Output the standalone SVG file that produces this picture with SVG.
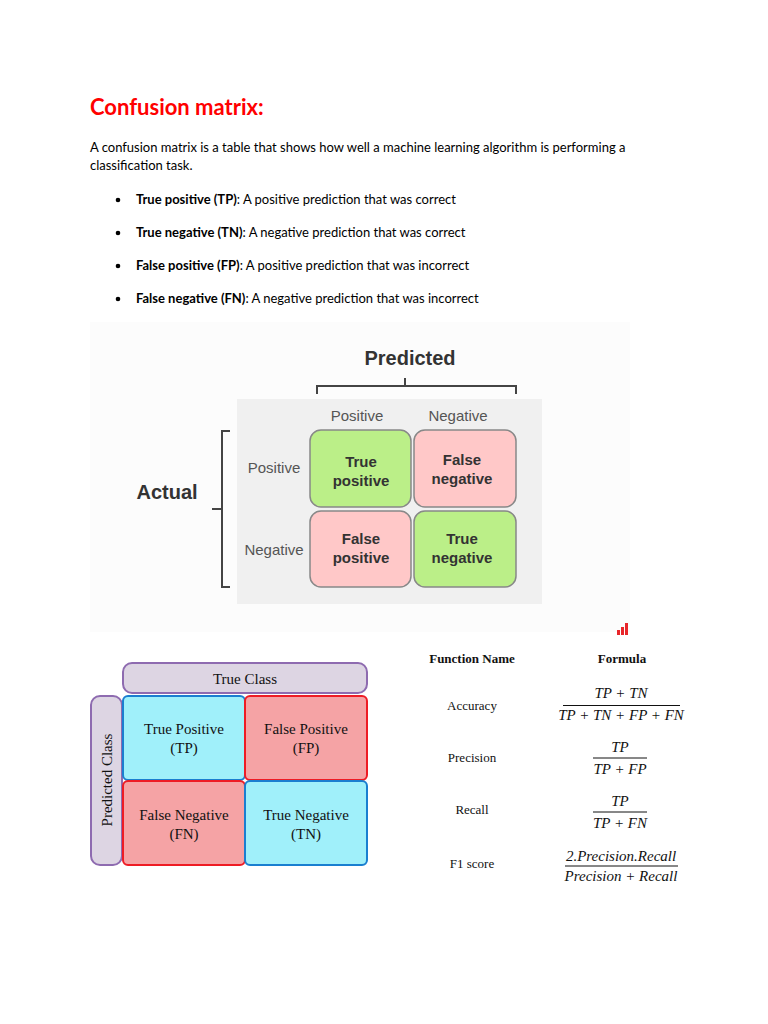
<svg xmlns="http://www.w3.org/2000/svg" width="768" height="1024" viewBox="0 0 768 1024">
<style>
.b{font-family:Lato,"Open Sans",sans-serif;font-size:13px;fill:#000}
.bb{font-weight:bold}
.h{font-family:"Liberation Sans",Arial,sans-serif;fill:#333}
.lab{font-size:15px;fill:#555}
.cell{font-size:15px;font-weight:bold;fill:#333}
.s{font-family:"Liberation Serif","Times New Roman",serif;fill:#111}
.f{font-family:"Liberation Serif",serif;font-style:italic;font-size:15px;fill:#111}
.br{fill:none;stroke:#444;stroke-width:2}
</style>
<rect width="768" height="1024" fill="#fff"/>
<text x="90" y="115" font-family="Lato,'Open Sans',sans-serif" font-size="22" font-weight="bold" fill="#ff0000">Confusion matrix:</text>
<text class="b" x="90" y="152">A confusion matrix is a table that shows how well a machine learning algorithm is performing a</text>
<text class="b" x="90" y="170">classification task.</text>
<g class="b">
<circle cx="118" cy="200" r="2.3"/><text x="136" y="204"><tspan class="bb">True positive (TP)</tspan>: A positive prediction that was correct</text>
<circle cx="118" cy="233" r="2.3"/><text x="136" y="237"><tspan class="bb">True negative (TN)</tspan>: A negative prediction that was correct</text>
<circle cx="118" cy="266" r="2.3"/><text x="136" y="270"><tspan class="bb">False positive (FP)</tspan>: A positive prediction that was incorrect</text>
<circle cx="118" cy="299" r="2.3"/><text x="136" y="303"><tspan class="bb">False negative (FN)</tspan>: A negative prediction that was incorrect</text>
</g>

<g id="matrix1">
<rect x="90" y="322" width="540" height="310" fill="#fcfcfc"/>
<rect x="237" y="399" width="305" height="205" fill="#f0f0f0"/>
<text class="h" x="410" y="365" text-anchor="middle" font-size="20" font-weight="bold">Predicted</text>
<path class="br" d="M317,394 V386 H405 V378 M405,386 H516 V394"/>
<text class="h" x="167" y="499" text-anchor="middle" font-size="20" font-weight="bold">Actual</text>
<path class="br" d="M230,431 H222 V509 H212 M222,509 V587 H230"/>
<g class="h lab">
<text x="357" y="421" text-anchor="middle">Positive</text>
<text x="458" y="421" text-anchor="middle">Negative</text>
<text x="274" y="473" text-anchor="middle">Positive</text>
<text x="274" y="555" text-anchor="middle">Negative</text>
</g>
<g id="tp1"><rect x="310" y="430" width="101" height="77" rx="11" fill="#bbef88" stroke="#888" stroke-width="1.5"/><text class="h cell" x="361" text-anchor="middle"><tspan x="361" y="467">True</tspan><tspan x="361" y="486">positive</tspan></text></g>
<g id="fn1"><rect x="414" y="430" width="102" height="77" rx="11" fill="#ffc8c8" stroke="#888" stroke-width="1.5"/><text class="h cell" text-anchor="middle"><tspan x="462" y="465">False</tspan><tspan x="462" y="484">negative</tspan></text></g>
<g id="fp1"><rect x="310" y="511" width="101" height="76" rx="11" fill="#ffc8c8" stroke="#888" stroke-width="1.5"/><text class="h cell" text-anchor="middle"><tspan x="361" y="544">False</tspan><tspan x="361" y="563">positive</tspan></text></g>
<g id="tn1"><rect x="414" y="511" width="102" height="76" rx="11" fill="#bbef88" stroke="#888" stroke-width="1.5"/><text class="h cell" text-anchor="middle"><tspan x="462" y="544">True</tspan><tspan x="462" y="563">negative</tspan></text></g>
</g>

<g id="icon" fill="#e8262a"><rect x="617" y="630" width="3" height="5"/><rect x="621" y="627" width="3" height="8"/><rect x="625" y="623" width="3" height="12"/></g>

<g id="matrix2" class="s">
<rect x="123" y="663" width="244" height="30" rx="9" fill="#ddd5e3" stroke="#8e6bb0" stroke-width="2"/>
<text x="245" y="684" text-anchor="middle" font-size="15">True Class</text>
<rect x="91" y="696" width="31" height="169" rx="9" fill="#ddd5e3" stroke="#8e6bb0" stroke-width="2"/>
<text transform="translate(112,780) rotate(-90)" text-anchor="middle" font-size="15">Predicted Class</text>
<g id="tp2"><rect x="123" y="696" width="122" height="84" rx="5" fill="#a0f0fa" stroke="#1a7fd0" stroke-width="2"/><text text-anchor="middle" font-size="15"><tspan x="184" y="734">True Positive</tspan><tspan x="184" y="753">(TP)</tspan></text></g>
<g id="fp2"><rect x="245" y="696" width="122" height="84" rx="5" fill="#f5a3a5" stroke="#ee1c25" stroke-width="2"/><text text-anchor="middle" font-size="15"><tspan x="306" y="734">False Positive</tspan><tspan x="306" y="753">(FP)</tspan></text></g>
<g id="fn2"><rect x="123" y="781" width="122" height="84" rx="5" fill="#f5a3a5" stroke="#ee1c25" stroke-width="2"/><text text-anchor="middle" font-size="15"><tspan x="184" y="820">False Negative</tspan><tspan x="184" y="839">(FN)</tspan></text></g>
<g id="tn2"><rect x="245" y="781" width="122" height="84" rx="5" fill="#a0f0fa" stroke="#1a7fd0" stroke-width="2"/><text text-anchor="middle" font-size="15"><tspan x="306" y="820">True Negative</tspan><tspan x="306" y="839">(TN)</tspan></text></g>
</g>

<g id="table" class="s" font-size="13" text-anchor="middle">
<text x="472" y="663" font-weight="bold">Function Name</text>
<text x="622" y="663" font-weight="bold">Formula</text>
<text x="472" y="710">Accuracy</text>
<text x="472" y="762">Precision</text>
<text x="472" y="814">Recall</text>
<text x="472" y="868">F1 score</text>
<g class="f">
<text x="621" y="698">TP + TN</text>
<text x="621" y="720">TP + TN + FP + FN</text>
<text x="620" y="752">TP</text>
<text x="620" y="774">TP + FP</text>
<text x="620" y="806">TP</text>
<text x="620" y="828">TP + FN</text>
<text x="621" y="861">2.Precision.Recall</text>
<text x="621" y="881">Precision + Recall</text>
</g>
<g stroke="#111" stroke-width="1"><path d="M563,705.5 H680 M593,758 H647 M593,812 H647 M565,866 H678"/></g>
</g>
</svg>
